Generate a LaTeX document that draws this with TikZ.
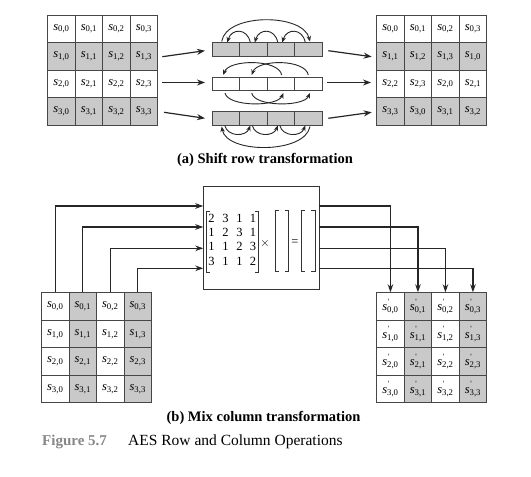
\documentclass[tikz,border=0pt]{standalone}
\usepackage{fontspec}
\setmainfont{Liberation Serif}
\usetikzlibrary{arrows.meta}
\definecolor{cellgray}{RGB}{201,201,201}
\definecolor{figgray}{RGB}{135,135,135}
\definecolor{linegray}{RGB}{70,70,70}
\newcommand{\sv}[2]{\textit{s}\textsubscript{#1,#2}}
\newcommand{\svp}[2]{\textit{s}\makebox[0pt][l]{\raisebox{6.8pt}{\fontsize{8}{8}\selectfont\kern0.6pt\textquotesingle}}\textsubscript{#1,#2}}
\tikzset{
  cell/.style={draw=linegray, line width=0.8pt, minimum width=27.5pt, minimum height=27.5pt, inner sep=0pt, font=\fontsize{12.5}{14}\selectfont},
  barcell/.style={draw=linegray, line width=0.8pt, minimum width=27.5pt, minimum height=13.5pt, inner sep=0pt},
  bigarrow/.style={line width=1.2pt, draw=black!85, -{Stealth[length=8pt,width=6pt]}},
  arcarrow/.style={line width=0.9pt, draw=black!85, -{Stealth[length=5.5pt,width=4.5pt]}},
  colarrow/.style={line width=1.3pt, draw=black!85, -{Stealth[length=8pt,width=5.5pt]}},
  capfont/.style={font=\fontsize{14.5}{17}\selectfont\bfseries},
  digit/.style={inner sep=0pt, font=\fontsize{12.5}{14}\selectfont},
  brk/.style={line width=0.8pt, draw=black!80}
}
\begin{document}
\begin{tikzpicture}[x=1pt,y=-1pt]
\useasboundingbox (0,0) rectangle (531,477);
\fill[white] (0,0) rectangle (531,477);

% ---------- (a) Shift rows ----------
\foreach \r in {0,...,3}{
  \foreach \c in {0,...,3}{
    \ifodd\r \def\cf{cellgray}\else\def\cf{white}\fi
    \pgfmathtruncatemacro{\m}{mod(\c+\r,4)}
    \node[cell, fill=\cf] (A\r\c) at ({61.45+27.5*\c},{28.75+27.5*\r}) {\sv{\r}{\c}};
    \node[cell, fill=\cf] (S\r\c) at ({390.45+27.5*\c},{28.75+27.5*\r}) {\sv{\r}{\m}};
  }
}
% bars
\foreach \c in {0,...,3}{
  \node[barcell, fill=cellgray] (B1\c) at ({226.05+27.5*\c},49.25) {};
  \node[barcell, fill=white] (B2\c) at ({226.05+27.5*\c},84) {};
  \node[barcell, fill=cellgray] (B3\c) at ({226.05+27.5*\c},118.25) {};
}
% arrows grid -> bars -> grid
\coordinate (p1a) at (162.3,56.7); \coordinate (p1b) at (205,50.7);
\coordinate (p2a) at (162.3,82.5); \coordinate (p2b) at (205,82.5);
\coordinate (p3a) at (164,112.3);  \coordinate (p3b) at (205,118.3);
\coordinate (q1a) at (328.3,50.7); \coordinate (q1b) at (371.7,56.7);
\coordinate (q2a) at (327,82.5);   \coordinate (q2b) at (371,82.5);
\coordinate (q3a) at (328.3,118.3);\coordinate (q3b) at (371.7,112.3);
\foreach \i in {1,2,3}{
  \draw[bigarrow] (p\i a) -- (p\i b);
  \draw[bigarrow] (q\i a) -- (q\i b);
}
% bar 1 arcs (shift left by one)
\draw[arcarrow] (250.3,42.5) .. controls (247.5,28) and (231.5,28) .. (227.3,42.5);
\draw[arcarrow] (277.8,42.5) .. controls (275,28) and (259,28) .. (254.8,42.5);
\draw[arcarrow] (305.3,42.5) .. controls (302.5,28) and (286.5,28) .. (282.3,42.5);
\draw[arcarrow] (221.7,41.5) .. controls (226,13) and (303,13) .. (310,41.5);
% bar 2 arcs (shift left by two)
\draw[arcarrow] (281.7,75) .. controls (279,59) and (229,59) .. (223.3,75);
\draw[arcarrow] (308.3,75) .. controls (305.5,59) and (257.5,59) .. (251.7,75);
\draw[arcarrow] (225,93) .. controls (228,107) and (277.5,107) .. (283.3,93);
\draw[arcarrow] (251.7,93) .. controls (254.5,107) and (304,107) .. (310,93);
% bar 3 arcs (shift left by three)
\draw[arcarrow] (224.8,125.5) .. controls (227.5,137) and (246,137) .. (250.3,125.5);
\draw[arcarrow] (252.3,125.5) .. controls (255,137) and (273.5,137) .. (277.8,125.5);
\draw[arcarrow] (279.8,125.5) .. controls (282.5,137) and (301,137) .. (305.3,125.5);
\draw[arcarrow] (310,126.5) .. controls (305,154) and (226.5,154) .. (221.7,126.5);

\node[capfont] (capa) at (265,160) {(a) Shift row transformation};

% ---------- (b) Mix columns ----------
\node[draw=black!80, line width=0.8pt, minimum width=115.7pt, minimum height=103pt, inner sep=0pt] (mix) at (261.2,237.5) {};
% matrix
\foreach \r/\ra/\rb/\rc/\rd in {0/2/3/1/1,1/1/2/3/1,2/1/1/2/3,3/3/1/1/2}{
  \node[digit] (m\r0) at (211.5,{218+14.4*\r}) {\ra};
  \node[digit] (m\r1) at (225.5,{218+14.4*\r}) {\rb};
  \node[digit] (m\r2) at (239.5,{218+14.4*\r}) {\rc};
  \node[digit] (m\r3) at (253,{218+14.4*\r}) {\rd};
}
\draw[brk] (209.5,211.7) -- (205.9,211.7) -- (205.9,272.7) -- (209.5,272.7);
\draw[brk] (254.7,211.7) -- (258.3,211.7) -- (258.3,272.7) -- (254.7,272.7);
\node[digit] (times) at (265,243) {$\times$};
\draw[brk] (278.6,210) -- (275,210) -- (275,271.7) -- (278.6,271.7);
\draw[brk] (284.7,210) -- (288.3,210) -- (288.3,271.7) -- (284.7,271.7);
\node[digit] (eq) at (295,243) {=};
\draw[brk] (305.3,210) -- (301.7,210) -- (301.7,271.7) -- (305.3,271.7);
\draw[brk] (311.4,210) -- (315,210) -- (315,271.7) -- (311.4,271.7);

% grids
\foreach \r in {0,...,3}{
  \foreach \c in {0,...,3}{
    \ifodd\c \def\cf{cellgray}\else\def\cf{white}\fi
    \node[cell, fill=\cf] (L\r\c) at ({55.25+27.5*\c},{306.45+27.5*\r}) {\sv{\r}{\c}};
    \node[cell, fill=\cf] (R\r\c) at ({390.45+27.5*\c},{306.45+27.5*\r}) {\svp{\r}{\c}};
  }
}
% connectors
\foreach \c/\yy in {0/206,1/227,2/248.3,3/268.3}{
  \coordinate (in\c) at (203.3,\yy);
  \coordinate (out\c) at (319.2,\yy);
  \draw[colarrow] (L0\c.north) |- (in\c);
  \draw[colarrow] (out\c) -| (R0\c.north);
}

\node[capfont] (capb) at (263.5,418) {(b) Mix column transformation};
\node[anchor=base west, inner sep=0pt, text=figgray, font=\fontsize{15}{17}\selectfont\bfseries] (fig) at (42,445) {Figure 5.7};
\node[anchor=base west, inner sep=0pt, font=\fontsize{15.5}{17}\selectfont] (figt) at (128,445) {AES Row and Column Operations};
\end{tikzpicture}
\end{document}
